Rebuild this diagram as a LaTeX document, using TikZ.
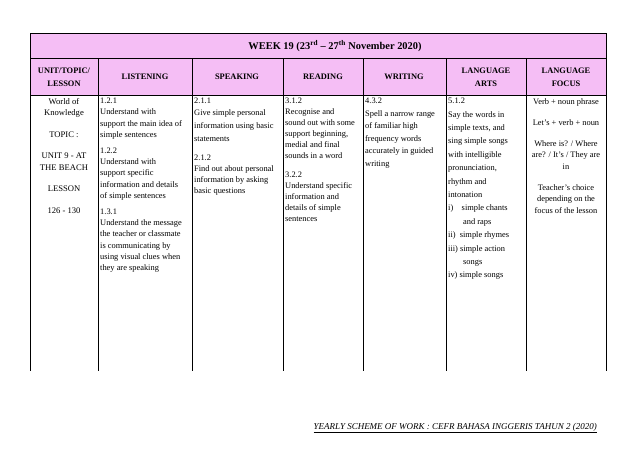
\documentclass[tikz,border=0pt]{standalone}
\usepackage{fontspec}
\setmainfont{Liberation Serif}
\definecolor{pinkhd}{RGB}{245,190,245}
\begin{document}
\begin{tikzpicture}[x=1pt,y=-1pt,
  cell/.style={anchor=north west,inner sep=0pt,align=left},
  ccell/.style={anchor=north,inner sep=0pt,align=center},
  hd/.style={font=\bfseries\fontsize{8.4}{13}\selectfont,align=center,inner sep=0pt},
  rule/.style={line width=0.9pt}]
\useasboundingbox (0,0) rectangle (638,451);
\fill[pinkhd] (30,33) rectangle (606,95);
\draw[rule] (30,33) -- (606,33);
\draw[rule] (30,58) -- (606,58);
\draw[rule] (30,95) -- (606,95);
\foreach \x in {30,98,192,283,363,446,526,606} \draw[rule] (\x,58) -- (\x,371);
\draw[rule] (30,33) -- (30,58);
\draw[rule] (606,33) -- (606,58);
\node[font=\bfseries\fontsize{10.4}{12}\selectfont] (title) at (335,46) {WEEK 19 (23\textsuperscript{rd} -- 27\textsuperscript{th} November 2020)};
\node[hd] (h1) at (64,77) {UNIT/TOPIC/\\LESSON};
\node[hd] (h2) at (145,77) {LISTENING};
\node[hd] (h3) at (237,77) {SPEAKING};
\node[hd] (h4) at (323,77) {READING};
\node[hd] (h5) at (404,77) {WRITING};
\node[hd] (h6) at (486,77) {LANGUAGE\\ARTS};
\node[hd] (h7) at (566,77) {LANGUAGE\\FOCUS};
\node[ccell,font=\fontsize{8.6}{11.5}\selectfont] (c1) at (64,98) {World of\\Knowledge\\[10pt]TOPIC :\\[10pt]UNIT 9 - AT\\THE BEACH\\[10pt]LESSON\\[10pt]126 - 130};
\node[cell,font=\fontsize{8.4}{11.2}\selectfont] (c2) at (100,98) {1.2.1\\Understand with\\support the main idea of\\simple sentences\\[5pt]1.2.2\\Understand with\\support specific\\information and details\\of simple sentences\\[5pt]1.3.1\\Understand the message\\the teacher or classmate\\is communicating by\\using visual clues when\\they are speaking};
\node[cell,font=\fontsize{8.4}{11}\selectfont] (c3) at (194,98) {2.1.1\\[1pt]Give simple personal\\[2pt]information using basic\\[2pt]statements\\[8pt]2.1.2\\Find out about personal\\information by asking\\basic questions};
\node[cell,font=\fontsize{8.4}{11}\selectfont] (c4) at (285,98) {3.1.2\\Recognise and\\sound out with some\\support beginning,\\medial and final\\sounds in a word\\[8pt]3.2.2\\Understand specific\\information and\\details of simple\\sentences};
\node[cell,font=\fontsize{8.4}{12.5}\selectfont] (c5) at (365,98) {4.3.2\\Spell a narrow range\\of familiar high\\frequency words\\accurately in guided\\writing};
\node[cell,font=\fontsize{8.4}{13.4}\selectfont] (c6) at (448,98) {5.1.2\\Say the words in\\simple texts, and\\sing simple songs\\with intelligible\\pronunciation,\\rhythm and\\intonation\\i)\quad simple chants\\\hspace*{15pt}and raps\\ii)\ \ simple rhymes\\iii) simple action\\\hspace*{15pt}songs\\iv)\ simple songs};
\node[ccell,font=\fontsize{8.4}{11.3}\selectfont] (c7) at (566,98) {Verb + noun phrase\\[10pt]Let's + verb + noun\\[10pt]Where is? / Where\\are? / It's / They are\\in\\[10pt]Teacher's choice\\depending on the\\focus of the lesson};
\node[font=\itshape\fontsize{9}{10}\selectfont,anchor=east,inner sep=0pt] (foot) at (597,428) {\underline{YEARLY SCHEME OF WORK : CEFR BAHASA INGGERIS TAHUN 2 (2020)}};
\end{tikzpicture}
\end{document}
